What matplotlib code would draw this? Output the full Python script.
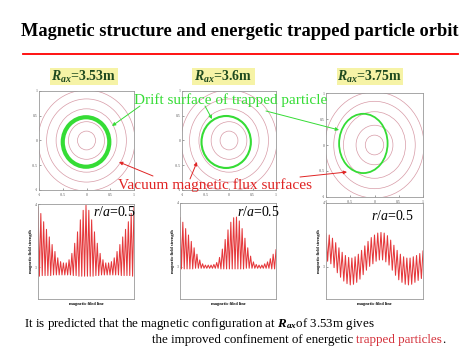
import numpy as np
import matplotlib
matplotlib.use('Agg')
import matplotlib.pyplot as plt
from matplotlib.patches import Rectangle, Circle, Ellipse, FancyArrowPatch
from matplotlib.lines import Line2D

plt.rcParams['font.family'] = ['Liberation Serif', 'DejaVu Serif']
plt.rcParams['mathtext.fontset'] = 'custom'
plt.rcParams['mathtext.rm'] = 'Liberation Serif'
plt.rcParams['mathtext.it'] = 'Liberation Serif:italic'
plt.rcParams['mathtext.bf'] = 'Liberation Serif:bold'
plt.rcParams['mathtext.bfit'] = 'Liberation Serif:bold:italic'

# ---- data ----
rax_labels = ['3.53m', '3.6m', '3.75m']
flux_radii = [0.19, 0.38, 0.64, 0.84, 1.02]
orbit_cx = [-0.01, -0.06, -0.23]
orbit_cy = [-0.03, -0.03, 0.03]
orbit_w = [0.98, 1.05, 1.0]
orbit_h = [1.0, 1.05, 1.14]

peaks1 = [3.95, 3.85, 3.72, 3.60, 3.48, 3.36, 3.25, 3.15, 3.09, 3.07, 3.07, 3.12,
          3.22, 3.38, 3.56, 3.75, 3.90, 3.98, 3.90, 3.75, 3.56, 3.38, 3.22, 3.12,
          3.07, 3.07, 3.09, 3.15, 3.25, 3.36, 3.48, 3.60, 3.72, 3.85, 3.95]
troughs1 = [2.86, 2.87, 2.87, 2.87, 2.87, 2.88, 2.88, 2.88, 2.88, 2.88, 2.88, 2.88,
            2.87, 2.87, 2.86, 2.86, 2.86, 2.86, 2.86, 2.86, 2.87, 2.87, 2.88, 2.88,
            2.88, 2.88, 2.88, 2.88, 2.88, 2.87, 2.87, 2.87, 2.87, 2.86]

peaks2 = [3.77, 3.70, 3.60, 3.50, 3.40, 3.30, 3.20, 3.11, 3.05, 3.03, 3.03, 3.03,
          3.04, 3.07, 3.15, 3.28, 3.43, 3.58, 3.70, 3.77, 3.78, 3.72, 3.60, 3.45,
          3.30, 3.17, 3.08, 3.04, 3.03, 3.03, 3.05, 3.08, 3.13, 3.20, 3.27]
troughs2 = [2.97, 2.97, 2.97, 2.97, 2.97, 2.98, 2.98, 2.98, 2.98, 2.98, 2.98, 2.98,
            2.98, 2.98, 2.97, 2.97, 2.97, 2.97, 2.97, 2.97, 2.97, 2.97, 2.97, 2.98,
            2.98, 2.98, 2.98, 2.98, 2.98, 2.98, 2.98, 2.98, 2.97, 2.97]

peaks3 = [3.52, 3.50, 3.45, 3.38, 3.30, 3.23, 3.18, 3.15, 3.14, 3.16, 3.20, 3.26,
          3.33, 3.40, 3.46, 3.50, 3.53, 3.54, 3.53, 3.49, 3.42, 3.34, 3.26, 3.20,
          3.16, 3.14, 3.14, 3.16, 3.18, 3.21, 3.25]
troughs3 = [3.09, 3.05, 2.99, 2.91, 2.84, 2.78, 2.74, 2.72, 2.73, 2.76, 2.81, 2.88,
            2.95, 3.01, 3.05, 3.09, 3.11, 3.11, 3.08, 3.03, 2.95, 2.87, 2.80, 2.76,
            2.73, 2.72, 2.73, 2.76, 2.79, 2.82]

field_peaks = [peaks1, peaks2, peaks3]
field_troughs = [troughs1, troughs2, troughs3]

W, H = 474, 355
fig = plt.figure(figsize=(W / 100, H / 100), dpi=100)


def fx(x):
    return x / W


def fy(y):
    return 1 - y / H


def ax_px(left, top, w, h):
    return fig.add_axes([fx(left), fy(top + h), w / W, h / H])


def style_ax(ax):
    for s in ax.spines.values():
        s.set_color('#999999')
        s.set_linewidth(0.6)
    ax.tick_params(labelsize=2.8, length=1.2, width=0.4, pad=1, direction='in',
                   colors='#555555')


green = '#35dc35'
red = '#e02424'

# title + rule
fig.text(fx(240), fy(31), 'Magnetic structure and energetic trapped particle orbit',
         ha='center', va='center', fontsize=13.2, fontweight='bold')
fig.add_artist(Line2D([fx(23), fx(458)], [fy(54), fy(54)], color='red', lw=1.3,
                      transform=fig.transFigure))

# R_ax labels
box_left = [50, 192, 337]
box_w = [68, 63, 66]
for bl, bw, lab in zip(box_left, box_w, rax_labels):
    fig.patches.append(Rectangle((fx(bl), fy(85)), bw / W, 17 / H, transform=fig.transFigure,
                                 facecolor='#f6f3a6', edgecolor='none'))
    fig.text(fx(bl + bw / 2), fy(76.5), r'$\mathbfit{R}_{\mathbfit{ax}}$=' + lab,
             ha='center', va='center', fontsize=10, fontweight='bold', color='#1f4a1f')

# top panels: flux surfaces and drift orbits
top_boxes = [(39, 91, 95, 99), (182, 91, 94, 99), (326, 93, 97, 104)]
orbit_lw = [3.0, 1.5, 1.3]
for k, (l, t, w, h) in enumerate(top_boxes):
    ax = ax_px(l, t, w, h)
    for r in flux_radii:
        ax.add_patch(Circle((0, 0), r, fill=False, edgecolor='#d79aa6', lw=0.5))
    ax.add_patch(Ellipse((orbit_cx[k], orbit_cy[k]), orbit_w[k], orbit_h[k], fill=False,
                         edgecolor=green, lw=orbit_lw[k]))
    ax.set_xlim(-1, 1)
    ax.set_ylim(-1, 1)
    ax.set_xticks([-1, -0.5, 0, 0.5, 1])
    ax.set_xticklabels(['-1', '-0.5', '0', '0.5', '1'])
    ax.set_yticks([-1, -0.5, 0, 0.5, 1])
    ax.set_yticklabels(['-1', '-0.5', '0', '0.5', '1'])
    style_ax(ax)
    ax.tick_params(axis='x', pad=2)

# bottom panels: field strength along field line
bot_boxes = [(38, 204, 96, 95), (180, 203, 96, 96), (326, 203, 97, 96)]
ra_pos = [(114, 212), (258, 212), (392, 216)]
for k, (l, t, w, h) in enumerate(bot_boxes):
    ax = ax_px(l, t, w, h)
    pk = field_peaks[k]
    tr = field_troughs[k]
    xs, ys = [], []
    for i in range(len(pk)):
        xs.append(i)
        ys.append(pk[i])
        if i < len(tr):
            xs.append(i + 0.5)
            ys.append(tr[i])
    ax.plot(xs, ys, color='#e5383b', lw=0.75)
    ax.set_xlim(0, len(pk) - 1)
    ax.set_ylim(2.5, 4.0)
    ax.set_xticks([])
    ax.set_yticks([3, 4])
    ax.set_yticklabels(['3', '4'])
    ax.set_ylabel('magnetic field strength', fontsize=3.2, fontweight='bold', labelpad=1.5)
    ax.set_xlabel('magnetic filed line', fontsize=3.2, fontweight='bold', labelpad=2)
    style_ax(ax)
    fig.text(fx(ra_pos[k][0]), fy(ra_pos[k][1]), r'$r/a$=0.5', ha='center', va='center',
             fontsize=10)

# callouts
fig.text(fx(231), fy(100), 'Drift surface of trapped particle', ha='center', va='center',
         fontsize=11, color=green)
fig.text(fx(215), fy(185), 'Vacuum magnetic flux surfaces', ha='center', va='center',
         fontsize=11.1, color=red)

green_arrows = [((140, 106), (112, 126)), ((205, 106), (212, 119)), ((266, 111), (339, 130))]
red_arrows = [((153, 176), (119, 162)), ((190, 179), (197, 162)), ((300, 177), (347, 172))]
for arrows, c in [(green_arrows, green), (red_arrows, red)]:
    for (x0, y0), (x1, y1) in arrows:
        fig.add_artist(FancyArrowPatch((fx(x0), fy(y0)), (fx(x1), fy(y1)),
                                       transform=fig.transFigure, arrowstyle='-|>',
                                       mutation_scale=5, lw=0.7, color=c, zorder=5,
                                       shrinkA=0, shrinkB=0))

# conclusion text
fig.text(fx(24), fy(324),
         r'It is predicted that the magnetic configuration at $\mathbfit{R}_{\mathbfit{ax}}$of 3.53m gives',
         ha='left', va='center', fontsize=9.4)
t1 = fig.text(fx(152), fy(340), 'the improved confinement of energetic', ha='left',
              va='center', fontsize=9.4)
t2 = fig.text(0, 0, 'trapped particles', fontsize=9.4, color='#d4303a', ha='left', va='bottom')
fig.canvas.draw()
bb = t1.get_window_extent()
t2.set_position(((bb.x1 + 2.6) / W, bb.y0 / H))
fig.canvas.draw()
bb2 = t2.get_window_extent()
fig.text((bb2.x1 + 0.3) / W, bb.y0 / H, '.', fontsize=9.4, ha='left', va='bottom')

fig.savefig('out.png', dpi=100)
